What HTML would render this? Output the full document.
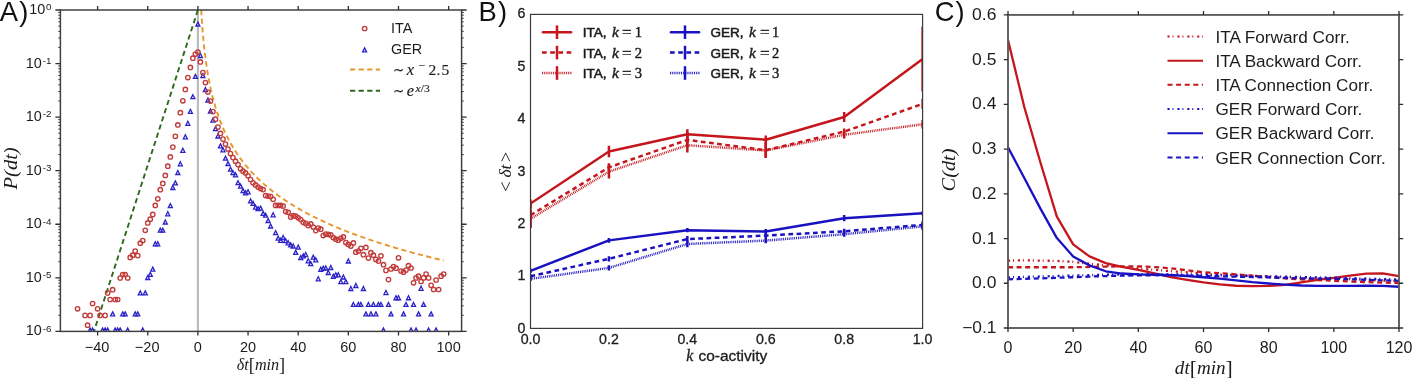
<!DOCTYPE html>
<html lang="en"><head><meta charset="utf-8"><title>Figure</title>
<style>html,body{margin:0;padding:0;background:#fff}svg{display:block}</style></head>
<body>
<svg width="1414" height="378" viewBox="0 0 1414 378">
<rect width="1414" height="378" fill="#fff"/>
<g id="panelA">
<clipPath id="clipA"><rect x="60.4" y="10.0" width="401.20000000000005" height="321.4"/></clipPath>
<g clip-path="url(#clipA)">
<line x1="197.9" y1="10.0" x2="197.9" y2="331.4" stroke="#bcbcbc" stroke-width="2.2"/>
<line x1="197.9" y1="10" x2="93.96" y2="331.4" stroke="#2c6a1c" stroke-width="1.9" stroke-dasharray="5.2 3.4"/>
<polyline fill="none" stroke="#e8962c" stroke-width="1.9" stroke-dasharray="5.2 3.4" points="201.21,10 201.31,11.72 201.41,13.44 201.52,15.16 201.62,16.88 201.74,18.6 201.85,20.31 201.97,22.03 202.09,23.75 202.22,25.47 202.35,27.19 202.48,28.91 202.62,30.63 202.76,32.35 202.9,34.07 203.05,35.79 203.21,37.51 203.37,39.22 203.53,40.94 203.7,42.66 203.88,44.38 204.06,46.1 204.24,47.82 204.43,49.54 204.63,51.26 204.83,52.98 205.04,54.7 205.25,56.42 205.47,58.13 205.7,59.85 205.93,61.57 206.17,63.29 206.42,65.01 206.68,66.73 206.94,68.45 207.21,70.17 207.49,71.89 207.78,73.61 208.07,75.33 208.38,77.05 208.69,78.76 209.02,80.48 209.35,82.2 209.69,83.92 210.05,85.64 210.41,87.36 210.79,89.08 211.17,90.8 211.57,92.52 211.98,94.24 212.4,95.96 212.84,97.67 213.29,99.39 213.75,101.11 214.23,102.83 214.72,104.55 215.22,106.27 215.74,107.99 216.27,109.71 216.83,111.43 217.39,113.15 217.98,114.87 218.58,116.58 219.2,118.3 219.84,120.02 220.5,121.74 221.18,123.46 221.87,125.18 222.59,126.9 223.33,128.62 224.1,130.34 224.88,132.06 225.69,133.78 226.53,135.5 227.39,137.21 228.27,138.93 229.18,140.65 230.12,142.37 231.09,144.09 232.08,145.81 233.11,147.53 234.16,149.25 235.25,150.97 236.37,152.69 237.53,154.41 238.71,156.12 239.94,157.84 241.2,159.56 242.5,161.28 243.84,163 245.22,164.72 246.63,166.44 248.1,168.16 249.6,169.88 251.15,171.6 252.75,173.32 254.4,175.04 256.09,176.75 257.84,178.47 259.64,180.19 261.49,181.91 263.4,183.63 265.36,185.35 267.38,187.07 269.47,188.79 271.62,190.51 273.83,192.23 276.1,193.95 278.45,195.66 280.87,197.38 283.36,199.1 285.92,200.82 288.56,202.54 291.28,204.26 294.08,205.98 296.97,207.7 299.94,209.42 303,211.14 306.15,212.86 309.4,214.57 312.75,216.29 316.19,218.01 319.74,219.73 323.4,221.45 327.16,223.17 331.04,224.89 335.03,226.61 339.15,228.33 343.38,230.05 347.75,231.77 352.24,233.49 356.87,235.2 361.64,236.92 366.56,238.64 371.62,240.36 376.83,242.08 382.19,243.8 387.72,245.52 393.42,247.24 399.28,248.96 405.33,250.68 411.55,252.4 417.96,254.11 424.56,255.83 431.36,257.55 438.36,259.27 443.63,260.53"/>
<g fill="none" stroke="#2a22c8" stroke-width="1.3" stroke-linejoin="miter">
<path d="M90.08 328L92.08 332L88.08 332Z"/>
<path d="M92.59 328L94.59 332L90.59 332Z"/>
<path d="M102.62 328L104.62 332L100.62 332Z"/>
<path d="M105.12 328L107.12 332L103.12 332Z"/>
<path d="M107.63 328L109.63 332L105.63 332Z"/>
<path d="M112.65 311.88L114.65 315.88L110.65 315.88Z"/>
<path d="M115.15 328L117.15 332L113.15 332Z"/>
<path d="M117.66 328L119.66 332L115.66 332Z"/>
<path d="M120.17 328L122.17 332L118.17 332Z"/>
<path d="M122.68 311.88L124.68 315.88L120.68 315.88Z"/>
<path d="M125.18 311.88L127.18 315.88L123.18 315.88Z"/>
<path d="M127.69 328L129.69 332L125.69 332Z"/>
<path d="M135.21 311.88L137.21 315.88L133.21 315.88Z"/>
<path d="M137.72 311.88L139.72 315.88L135.72 315.88Z"/>
<path d="M140.23 290.9L142.23 294.9L138.23 294.9Z"/>
<path d="M142.74 328L144.74 332L140.74 332Z"/>
<path d="M145.24 290.9L147.24 294.9L143.24 294.9Z"/>
<path d="M147.75 275.5L149.75 279.5L145.75 279.5Z"/>
<path d="M150.26 272.4L152.26 276.4L148.26 276.4Z"/>
<path d="M152.77 267.1L154.77 271.1L150.77 271.1Z"/>
<path d="M155.27 241.8L157.27 245.8L153.27 245.8Z"/>
<path d="M157.78 241.8L159.78 245.8L155.78 245.8Z"/>
<path d="M160.29 228.2L162.29 232.2L158.29 232.2Z"/>
<path d="M162.8 228.2L164.8 232.2L160.8 232.2Z"/>
<path d="M165.3 220L167.3 224L163.3 224Z"/>
<path d="M167.81 211.8L169.81 215.8L165.81 215.8Z"/>
<path d="M170.32 203.6L172.32 207.6L168.32 207.6Z"/>
<path d="M172.83 185.5L174.83 189.5L170.83 189.5Z"/>
<path d="M175.33 180.9L177.33 184.9L173.33 184.9Z"/>
<path d="M177.84 170.5L179.84 174.5L175.84 174.5Z"/>
<path d="M180.35 161.8L182.35 165.8L178.35 165.8Z"/>
<path d="M182.86 148.3L184.86 152.3L180.86 152.3Z"/>
<path d="M185.36 134.8L187.36 138.8L183.36 138.8Z"/>
<path d="M187.87 121.3L189.87 125.3L185.87 125.3Z"/>
<path d="M190.38 109.4L192.38 113.4L188.38 113.4Z"/>
<path d="M192.89 94.7L194.89 98.7L190.89 98.7Z"/>
<path d="M195.39 74.4L197.39 78.4L193.39 78.4Z"/>
<path d="M197.9 22L199.9 26L195.9 26Z"/>
<path d="M200.41 53.5L202.41 57.5L198.41 57.5Z"/>
<path d="M202.91 73.6L204.91 77.6L200.91 77.6Z"/>
<path d="M205.42 87.5L207.42 91.5L203.42 91.5Z"/>
<path d="M207.93 98L209.93 102L205.93 102Z"/>
<path d="M210.44 109L212.44 113L208.44 113Z"/>
<path d="M212.94 118.1L214.94 122.1L210.94 122.1Z"/>
<path d="M215.45 126.6L217.45 130.6L213.45 130.6Z"/>
<path d="M217.96 134L219.96 138L215.96 138Z"/>
<path d="M220.47 143.9L222.47 147.9L218.47 147.9Z"/>
<path d="M222.97 147.8L224.97 151.8L220.97 151.8Z"/>
<path d="M225.48 156.2L227.48 160.2L223.48 160.2Z"/>
<path d="M227.99 161.5L229.99 165.5L225.99 165.5Z"/>
<path d="M230.5 167.2L232.5 171.2L228.5 171.2Z"/>
<path d="M233 170.7L235 174.7L231 174.7Z"/>
<path d="M235.51 172.8L237.51 176.8L233.51 176.8Z"/>
<path d="M238.02 180.7L240.02 184.7L236.02 184.7Z"/>
<path d="M240.53 184.1L242.53 188.1L238.53 188.1Z"/>
<path d="M243.03 188.7L245.03 192.7L241.03 192.7Z"/>
<path d="M245.54 190.8L247.54 194.8L243.54 194.8Z"/>
<path d="M248.05 189.8L250.05 193.8L246.05 193.8Z"/>
<path d="M250.56 198.9L252.56 202.9L248.56 202.9Z"/>
<path d="M253.06 201.4L255.06 205.4L251.06 205.4Z"/>
<path d="M255.57 205.2L257.57 209.2L253.57 209.2Z"/>
<path d="M258.08 206.7L260.08 210.7L256.08 210.7Z"/>
<path d="M260.59 206.1L262.59 210.1L258.59 210.1Z"/>
<path d="M263.1 211.4L265.1 215.4L261.1 215.4Z"/>
<path d="M265.6 213.2L267.6 217.2L263.6 217.2Z"/>
<path d="M268.11 218.5L270.11 222.5L266.11 222.5Z"/>
<path d="M270.62 224L272.62 228L268.62 228Z"/>
<path d="M273.12 212.8L275.12 216.8L271.12 216.8Z"/>
<path d="M275.63 230.7L277.63 234.7L273.63 234.7Z"/>
<path d="M278.14 236.2L280.14 240.2L276.14 240.2Z"/>
<path d="M280.65 238.3L282.65 242.3L278.65 242.3Z"/>
<path d="M283.15 235.5L285.15 239.5L281.15 239.5Z"/>
<path d="M285.66 238.7L287.66 242.7L283.66 242.7Z"/>
<path d="M288.17 240.8L290.17 244.8L286.17 244.8Z"/>
<path d="M290.68 242.9L292.68 246.9L288.68 246.9Z"/>
<path d="M293.19 244L295.19 248L291.19 248Z"/>
<path d="M295.69 250.4L297.69 254.4L293.69 254.4Z"/>
<path d="M298.2 245.1L300.2 249.1L296.2 249.1Z"/>
<path d="M300.71 255.6L302.71 259.6L298.71 259.6Z"/>
<path d="M303.22 253.9L305.22 257.9L301.22 257.9Z"/>
<path d="M305.72 252.5L307.72 256.5L303.72 256.5Z"/>
<path d="M308.23 258.8L310.23 262.8L306.23 262.8Z"/>
<path d="M310.74 261.6L312.74 265.6L308.74 265.6Z"/>
<path d="M313.25 255.2L315.25 259.2L311.25 259.2Z"/>
<path d="M315.75 257.8L317.75 261.8L313.75 261.8Z"/>
<path d="M318.26 276.8L320.26 280.8L316.26 280.8Z"/>
<path d="M320.77 267.3L322.77 271.3L318.77 271.3Z"/>
<path d="M323.27 266.2L325.27 270.2L321.27 270.2Z"/>
<path d="M325.78 266L327.78 270L323.78 270Z"/>
<path d="M328.29 270.5L330.29 274.5L326.29 274.5Z"/>
<path d="M330.8 265.5L332.8 269.5L328.8 269.5Z"/>
<path d="M333.31 274.3L335.31 278.3L331.31 278.3Z"/>
<path d="M335.81 272.8L337.81 276.8L333.81 276.8Z"/>
<path d="M338.32 272.8L340.32 276.8L336.32 276.8Z"/>
<path d="M340.83 279.7L342.83 283.7L338.83 283.7Z"/>
<path d="M343.34 275L345.34 279L341.34 279Z"/>
<path d="M345.84 279.7L347.84 283.7L343.84 283.7Z"/>
<path d="M348.35 259L350.35 263L346.35 263Z"/>
<path d="M350.86 286.5L352.86 290.5L348.86 290.5Z"/>
<path d="M353.37 302.44L355.37 306.44L351.37 306.44Z"/>
<path d="M355.87 283.5L357.87 287.5L353.87 287.5Z"/>
<path d="M358.38 302.44L360.38 306.44L356.38 306.44Z"/>
<path d="M360.89 302.44L362.89 306.44L358.89 306.44Z"/>
<path d="M363.39 286.5L365.39 290.5L361.39 290.5Z"/>
<path d="M365.9 311.88L367.9 315.88L363.9 315.88Z"/>
<path d="M368.41 302.44L370.41 306.44L366.41 306.44Z"/>
<path d="M370.92 311.88L372.92 315.88L368.92 315.88Z"/>
<path d="M373.42 302.44L375.42 306.44L371.42 306.44Z"/>
<path d="M375.93 311.88L377.93 315.88L373.93 315.88Z"/>
<path d="M378.44 302.44L380.44 306.44L376.44 306.44Z"/>
<path d="M380.95 302.44L382.95 306.44L378.95 306.44Z"/>
<path d="M383.45 328L385.45 332L381.45 332Z"/>
<path d="M385.96 290.56L387.96 294.56L383.96 294.56Z"/>
<path d="M388.47 302.44L390.47 306.44L386.47 306.44Z"/>
<path d="M390.98 311.88L392.98 315.88L388.98 315.88Z"/>
<path d="M395.99 295.75L397.99 299.75L393.99 299.75Z"/>
<path d="M398.5 295.75L400.5 299.75L396.5 299.75Z"/>
<path d="M403.51 311.88L405.51 315.88L401.51 315.88Z"/>
<path d="M406.02 302.44L408.02 306.44L404.02 306.44Z"/>
<path d="M408.53 295.75L410.53 299.75L406.53 299.75Z"/>
<path d="M411.04 328L413.04 332L409.04 332Z"/>
<path d="M413.54 302.44L415.54 306.44L411.54 306.44Z"/>
<path d="M416.05 328L418.05 332L414.05 332Z"/>
<path d="M418.56 311.88L420.56 315.88L416.56 315.88Z"/>
<path d="M421.07 286.32L423.07 290.32L419.07 290.32Z"/>
<path d="M423.57 302.44L425.57 306.44L421.57 306.44Z"/>
<path d="M428.59 328L430.59 332L426.59 332Z"/>
<path d="M431.1 311.88L433.1 315.88L429.1 315.88Z"/>
<path d="M436.11 328L438.11 332L434.11 332Z"/>
</g>
<g fill="none" stroke="#c23a3a" stroke-width="1.35">
<circle cx="77.54" cy="308.8" r="2.2"/>
<circle cx="85.06" cy="315.4" r="2.2"/>
<circle cx="87.57" cy="325.2" r="2.2"/>
<circle cx="90.08" cy="315.4" r="2.2"/>
<circle cx="92.59" cy="303.5" r="2.2"/>
<circle cx="97.6" cy="308.8" r="2.2"/>
<circle cx="100.11" cy="315.4" r="2.2"/>
<circle cx="105.12" cy="315.4" r="2.2"/>
<circle cx="107.63" cy="292.9" r="2.2"/>
<circle cx="110.14" cy="299.5" r="2.2"/>
<circle cx="112.65" cy="289.7" r="2.2"/>
<circle cx="115.15" cy="299.5" r="2.2"/>
<circle cx="117.66" cy="299.5" r="2.2"/>
<circle cx="120.17" cy="278" r="2.2"/>
<circle cx="122.68" cy="274.5" r="2.2"/>
<circle cx="125.18" cy="274.5" r="2.2"/>
<circle cx="127.69" cy="278" r="2.2"/>
<circle cx="130.2" cy="257.4" r="2.2"/>
<circle cx="132.71" cy="255.2" r="2.2"/>
<circle cx="135.21" cy="251" r="2.2"/>
<circle cx="137.72" cy="255.6" r="2.2"/>
<circle cx="140.23" cy="243.2" r="2.2"/>
<circle cx="142.74" cy="240.6" r="2.2"/>
<circle cx="145.24" cy="230.3" r="2.2"/>
<circle cx="147.75" cy="222.9" r="2.2"/>
<circle cx="150.26" cy="219.2" r="2.2"/>
<circle cx="152.77" cy="214.4" r="2.2"/>
<circle cx="155.27" cy="205.4" r="2.2"/>
<circle cx="157.78" cy="198.8" r="2.2"/>
<circle cx="160.29" cy="189.7" r="2.2"/>
<circle cx="162.8" cy="183.4" r="2.2"/>
<circle cx="165.3" cy="175.4" r="2.2"/>
<circle cx="167.81" cy="166.2" r="2.2"/>
<circle cx="170.32" cy="156.9" r="2.2"/>
<circle cx="172.83" cy="147.1" r="2.2"/>
<circle cx="175.33" cy="136.3" r="2.2"/>
<circle cx="177.84" cy="124.9" r="2.2"/>
<circle cx="180.35" cy="112.7" r="2.2"/>
<circle cx="182.86" cy="100.8" r="2.2"/>
<circle cx="185.36" cy="89.4" r="2.2"/>
<circle cx="187.87" cy="77.5" r="2.2"/>
<circle cx="190.38" cy="67.4" r="2.2"/>
<circle cx="192.89" cy="58.2" r="2.2"/>
<circle cx="195.39" cy="54" r="2.2"/>
<circle cx="197.9" cy="52.1" r="2.2"/>
<circle cx="200.41" cy="61.9" r="2.2"/>
<circle cx="202.91" cy="72.5" r="2.2"/>
<circle cx="205.42" cy="82.5" r="2.2"/>
<circle cx="207.93" cy="92" r="2.2"/>
<circle cx="210.44" cy="101" r="2.2"/>
<circle cx="212.94" cy="111.5" r="2.2"/>
<circle cx="215.45" cy="119.2" r="2.2"/>
<circle cx="217.96" cy="127" r="2.2"/>
<circle cx="220.47" cy="133.4" r="2.2"/>
<circle cx="222.97" cy="139.1" r="2.2"/>
<circle cx="225.48" cy="144" r="2.2"/>
<circle cx="227.99" cy="149" r="2.2"/>
<circle cx="230.5" cy="153.5" r="2.2"/>
<circle cx="233" cy="157.6" r="2.2"/>
<circle cx="235.51" cy="161.2" r="2.2"/>
<circle cx="238.02" cy="164.6" r="2.2"/>
<circle cx="240.53" cy="168.8" r="2.2"/>
<circle cx="243.03" cy="171.2" r="2.2"/>
<circle cx="245.54" cy="172.9" r="2.2"/>
<circle cx="248.05" cy="175.8" r="2.2"/>
<circle cx="250.56" cy="179.6" r="2.2"/>
<circle cx="253.06" cy="182.8" r="2.2"/>
<circle cx="255.57" cy="184.9" r="2.2"/>
<circle cx="258.08" cy="187" r="2.2"/>
<circle cx="260.59" cy="188.5" r="2.2"/>
<circle cx="263.1" cy="189.6" r="2.2"/>
<circle cx="265.6" cy="195.5" r="2.2"/>
<circle cx="268.11" cy="196.1" r="2.2"/>
<circle cx="270.62" cy="196.6" r="2.2"/>
<circle cx="273.12" cy="199.3" r="2.2"/>
<circle cx="275.63" cy="205.4" r="2.2"/>
<circle cx="278.14" cy="205.4" r="2.2"/>
<circle cx="280.65" cy="205.4" r="2.2"/>
<circle cx="283.15" cy="206.1" r="2.2"/>
<circle cx="285.66" cy="211.5" r="2.2"/>
<circle cx="288.17" cy="212.3" r="2.2"/>
<circle cx="290.68" cy="217" r="2.2"/>
<circle cx="293.19" cy="215.7" r="2.2"/>
<circle cx="295.69" cy="216.2" r="2.2"/>
<circle cx="298.2" cy="217.8" r="2.2"/>
<circle cx="300.71" cy="219.5" r="2.2"/>
<circle cx="303.22" cy="222.3" r="2.2"/>
<circle cx="305.72" cy="223.4" r="2.2"/>
<circle cx="308.23" cy="225.6" r="2.2"/>
<circle cx="310.74" cy="223.9" r="2.2"/>
<circle cx="313.25" cy="227" r="2.2"/>
<circle cx="315.75" cy="230.6" r="2.2"/>
<circle cx="318.26" cy="228.1" r="2.2"/>
<circle cx="320.77" cy="229.2" r="2.2"/>
<circle cx="323.27" cy="235.5" r="2.2"/>
<circle cx="325.78" cy="234" r="2.2"/>
<circle cx="328.29" cy="234.4" r="2.2"/>
<circle cx="330.8" cy="234.9" r="2.2"/>
<circle cx="333.31" cy="237.6" r="2.2"/>
<circle cx="335.81" cy="239.2" r="2.2"/>
<circle cx="338.32" cy="240.2" r="2.2"/>
<circle cx="340.83" cy="238.3" r="2.2"/>
<circle cx="343.34" cy="236.9" r="2.2"/>
<circle cx="345.84" cy="242.5" r="2.2"/>
<circle cx="348.35" cy="244.4" r="2.2"/>
<circle cx="350.86" cy="246" r="2.2"/>
<circle cx="353.37" cy="242.9" r="2.2"/>
<circle cx="355.87" cy="252.2" r="2.2"/>
<circle cx="358.38" cy="251" r="2.2"/>
<circle cx="360.89" cy="248.3" r="2.2"/>
<circle cx="363.39" cy="254.7" r="2.2"/>
<circle cx="365.9" cy="247.4" r="2.2"/>
<circle cx="368.41" cy="258" r="2.2"/>
<circle cx="370.92" cy="252.7" r="2.2"/>
<circle cx="373.42" cy="255.2" r="2.2"/>
<circle cx="375.93" cy="259.4" r="2.2"/>
<circle cx="378.44" cy="261.1" r="2.2"/>
<circle cx="380.95" cy="255.8" r="2.2"/>
<circle cx="383.45" cy="264.7" r="2.2"/>
<circle cx="385.96" cy="270.4" r="2.2"/>
<circle cx="388.47" cy="279.6" r="2.2"/>
<circle cx="390.98" cy="269" r="2.2"/>
<circle cx="393.49" cy="266.5" r="2.2"/>
<circle cx="395.99" cy="268.2" r="2.2"/>
<circle cx="398.5" cy="257.8" r="2.2"/>
<circle cx="401.01" cy="271" r="2.2"/>
<circle cx="403.51" cy="272.2" r="2.2"/>
<circle cx="406.02" cy="270.1" r="2.2"/>
<circle cx="408.53" cy="265.7" r="2.2"/>
<circle cx="411.04" cy="268" r="2.2"/>
<circle cx="413.54" cy="282.8" r="2.2"/>
<circle cx="416.05" cy="277.9" r="2.2"/>
<circle cx="418.56" cy="276.2" r="2.2"/>
<circle cx="421.07" cy="281.5" r="2.2"/>
<circle cx="423.57" cy="277.9" r="2.2"/>
<circle cx="426.08" cy="274" r="2.2"/>
<circle cx="428.59" cy="277.9" r="2.2"/>
<circle cx="431.1" cy="285.3" r="2.2"/>
<circle cx="433.61" cy="289.5" r="2.2"/>
<circle cx="436.11" cy="280" r="2.2"/>
<circle cx="438.62" cy="289.5" r="2.2"/>
<circle cx="441.13" cy="276.2" r="2.2"/>
<circle cx="443.63" cy="274" r="2.2"/>
</g>
</g>
<rect x="60.4" y="10.0" width="401.2" height="321.4" fill="none" stroke="#404040" stroke-width="1.5"/>
<path d="M97.6 331.4v4M97.6 10.0v-4M147.75 331.4v4M147.75 10.0v-4M197.9 331.4v4M197.9 10.0v-4M248.05 331.4v4M248.05 10.0v-4M298.2 331.4v4M298.2 10.0v-4M348.35 331.4v4M348.35 10.0v-4M398.5 331.4v4M398.5 10.0v-4M448.65 331.4v4M448.65 10.0v-4M60.4 10h-5M461.6 10h5M60.4 63.57h-5M461.6 63.57h5M60.4 117.13h-5M461.6 117.13h5M60.4 170.7h-5M461.6 170.7h5M60.4 224.27h-5M461.6 224.27h5M60.4 277.83h-5M461.6 277.83h5M60.4 331.4h-5M461.6 331.4h5" stroke="#2e2e2e" stroke-width="1.3" fill="none"/>
<path d="M60.4 47.44h-2.2M461.6 47.44h2.2M60.4 38.01h-2.2M461.6 38.01h2.2M60.4 31.32h-2.2M461.6 31.32h2.2M60.4 26.13h-2.2M461.6 26.13h2.2M60.4 21.88h-2.2M461.6 21.88h2.2M60.4 18.3h-2.2M461.6 18.3h2.2M60.4 15.19h-2.2M461.6 15.19h2.2M60.4 12.45h-2.2M461.6 12.45h2.2M60.4 101.01h-2.2M461.6 101.01h2.2M60.4 91.58h-2.2M461.6 91.58h2.2M60.4 84.88h-2.2M461.6 84.88h2.2M60.4 79.69h-2.2M461.6 79.69h2.2M60.4 75.45h-2.2M461.6 75.45h2.2M60.4 71.86h-2.2M461.6 71.86h2.2M60.4 68.76h-2.2M461.6 68.76h2.2M60.4 66.02h-2.2M461.6 66.02h2.2M60.4 154.57h-2.2M461.6 154.57h2.2M60.4 145.14h-2.2M461.6 145.14h2.2M60.4 138.45h-2.2M461.6 138.45h2.2M60.4 133.26h-2.2M461.6 133.26h2.2M60.4 129.02h-2.2M461.6 129.02h2.2M60.4 125.43h-2.2M461.6 125.43h2.2M60.4 122.32h-2.2M461.6 122.32h2.2M60.4 119.58h-2.2M461.6 119.58h2.2M60.4 208.14h-2.2M461.6 208.14h2.2M60.4 198.71h-2.2M461.6 198.71h2.2M60.4 192.02h-2.2M461.6 192.02h2.2M60.4 186.83h-2.2M461.6 186.83h2.2M60.4 182.58h-2.2M461.6 182.58h2.2M60.4 179h-2.2M461.6 179h2.2M60.4 175.89h-2.2M461.6 175.89h2.2M60.4 173.15h-2.2M461.6 173.15h2.2M60.4 261.71h-2.2M461.6 261.71h2.2M60.4 252.28h-2.2M461.6 252.28h2.2M60.4 245.58h-2.2M461.6 245.58h2.2M60.4 240.39h-2.2M461.6 240.39h2.2M60.4 236.15h-2.2M461.6 236.15h2.2M60.4 232.56h-2.2M461.6 232.56h2.2M60.4 229.46h-2.2M461.6 229.46h2.2M60.4 226.72h-2.2M461.6 226.72h2.2M60.4 315.27h-2.2M461.6 315.27h2.2M60.4 305.84h-2.2M461.6 305.84h2.2M60.4 299.15h-2.2M461.6 299.15h2.2M60.4 293.96h-2.2M461.6 293.96h2.2M60.4 289.72h-2.2M461.6 289.72h2.2M60.4 286.13h-2.2M461.6 286.13h2.2M60.4 283.02h-2.2M461.6 283.02h2.2M60.4 280.28h-2.2M461.6 280.28h2.2" stroke="#333" stroke-width="0.9" fill="none"/>
<g font-family='"Liberation Sans", "DejaVu Sans", sans-serif' fill="#1c1c1c">
<text x="97" y="351.7" font-size="14.5" text-anchor="middle">−40</text>
<text x="147.15" y="351.7" font-size="14.5" text-anchor="middle">−20</text>
<text x="197.9" y="351.7" font-size="14.5" text-anchor="middle">0</text>
<text x="248.05" y="351.7" font-size="14.5" text-anchor="middle">20</text>
<text x="298.2" y="351.7" font-size="14.5" text-anchor="middle">40</text>
<text x="348.35" y="351.7" font-size="14.5" text-anchor="middle">60</text>
<text x="398.5" y="351.7" font-size="14.5" text-anchor="middle">80</text>
<text x="448.65" y="351.7" font-size="14.5" text-anchor="middle">100</text>
<text x="51.5" y="14" font-size="14.4" text-anchor="end">10<tspan font-size="9.8" dy="-3.7" dx="0.9">0</tspan></text>
<text x="51.5" y="67.57" font-size="14.4" text-anchor="end">10<tspan font-size="9.8" dy="-3.7" dx="0.9">-1</tspan></text>
<text x="51.5" y="121.13" font-size="14.4" text-anchor="end">10<tspan font-size="9.8" dy="-3.7" dx="0.9">-2</tspan></text>
<text x="51.5" y="174.7" font-size="14.4" text-anchor="end">10<tspan font-size="9.8" dy="-3.7" dx="0.9">-3</tspan></text>
<text x="51.5" y="228.27" font-size="14.4" text-anchor="end">10<tspan font-size="9.8" dy="-3.7" dx="0.9">-4</tspan></text>
<text x="51.5" y="281.83" font-size="14.4" text-anchor="end">10<tspan font-size="9.8" dy="-3.7" dx="0.9">-5</tspan></text>
<text x="51.5" y="335.4" font-size="14.4" text-anchor="end">10<tspan font-size="9.8" dy="-3.7" dx="0.9">-6</tspan></text>
</g>
<text transform="translate(17.4 168.4) rotate(-90)" font-family='"Liberation Serif", "DejaVu Serif", serif' font-style="italic" font-size="19.6" text-anchor="middle" fill="#1c1c1c" textLength="42.2" lengthAdjust="spacingAndGlyphs">P(dt)</text>
<text x="261" y="370.4" font-family='"Liberation Serif", "DejaVu Serif", serif' font-style="italic" font-size="16.3" text-anchor="middle" fill="#1c1c1c" textLength="48.5" lengthAdjust="spacingAndGlyphs">δt<tspan font-style="normal" font-size="18.6" dy="0.9">[</tspan><tspan dy="-0.9">min</tspan><tspan font-style="normal" font-size="18.6" dy="0.9">]</tspan></text>
<circle cx="364.6" cy="28.5" r="2.2" fill="none" stroke="#c23a3a" stroke-width="1.35"/>
<path d="M364.6 47.9L366.6 51.9L362.6 51.9Z" fill="none" stroke="#2a22c8" stroke-width="1.3"/>
<line x1="350" y1="69.5" x2="380" y2="69.5" stroke="#e8962c" stroke-width="1.9" stroke-dasharray="5.2 3.4"/>
<line x1="350" y1="90.7" x2="380" y2="90.7" stroke="#2c6a1c" stroke-width="1.9" stroke-dasharray="5.2 3.4"/>
<text x="391" y="33.2" font-family='"Liberation Sans", "DejaVu Sans", sans-serif' font-size="14.4" fill="#1c1c1c">ITA</text>
<text x="391" y="54.4" font-family='"Liberation Sans", "DejaVu Sans", sans-serif' font-size="14.4" fill="#1c1c1c">GER</text>
<g font-family='"Liberation Serif", "DejaVu Serif", serif' fill="#1c1c1c" font-size="15.5" stroke="#1c1c1c" stroke-width="0.15"><text x="392.9" y="74.8" textLength="11.4" lengthAdjust="spacingAndGlyphs">∼</text><text x="406.8" y="74.8" font-style="italic" font-size="16.4">x</text><text x="418.5" y="68.6" font-size="11.6">−</text><text x="428.6" y="74.8">2</text><text x="436.6" y="74.8">.</text><text x="441.6" y="74.8">5</text></g>
<g font-family='"Liberation Serif", "DejaVu Serif", serif' fill="#1c1c1c" font-size="15.5" stroke="#1c1c1c" stroke-width="0.15"><text x="392.9" y="96" textLength="11.4" lengthAdjust="spacingAndGlyphs">∼</text><text x="406.8" y="96" font-style="italic" font-size="16.4">e</text><text x="415.6" y="91.6" font-size="11.4" textLength="14.2" lengthAdjust="spacingAndGlyphs"><tspan font-style="italic">x</tspan>/3</text></g>
<text x="-0.3" y="20.7" font-family='"Liberation Sans", "DejaVu Sans", sans-serif' font-size="27.4" fill="#111" letter-spacing="1.3">A)</text>
</g>
<g id="panelB">
<clipPath id="clipB"><rect x="530.5" y="14.4" width="392.1" height="314.0"/></clipPath>
<g clip-path="url(#clipB)" fill="none" stroke-width="2.5">
<polyline stroke="#1a12c0" stroke-dasharray="0.9 0.95" stroke-linejoin="round" points="530.5,278.89 608.92,267.9 687.34,243.99 765.76,240.58 844.18,234.2 922.6,226.35"/>
<path stroke="#1a12c0" d="M530.5 276.8V280.99M608.92 265.29V270.52M687.34 240.85V247.13M765.76 237.97V243.2M844.18 231.58V236.82M922.6 222.69V230.01"/>
<polyline stroke="#1a12c0" stroke-dasharray="4.7 3.5" stroke-linejoin="round" points="530.5,276.33 608.92,258.8 687.34,239.07 765.76,235.61 844.18,231.27 922.6,224.88"/>
<path stroke="#1a12c0" d="M530.5 274.23V278.42M608.92 256.18V261.41M687.34 235.93V242.21M765.76 233V238.23M844.18 228.65V233.89M922.6 221.22V228.55"/>
<polyline stroke="#1a12c0" stroke-linejoin="round" points="530.5,270.83 608.92,240.38 687.34,230.17 765.76,231.58 844.18,218.19 922.6,213.27"/>
<path stroke="#1a12c0" d="M530.5 268.74V272.93M608.92 238.02V242.73M687.34 228.08V232.26M765.76 228.97V234.2M844.18 215.05V221.33M922.6 211.17V215.36"/>
<polyline stroke="#c4161c" stroke-dasharray="0.9 0.95" stroke-linejoin="round" points="530.5,218.81 608.92,171.66 687.34,145.23 765.76,150.47 844.18,134.77 922.6,124.3"/>
<path stroke="#c4161c" d="M530.5 209.92V227.71M608.92 164.86V178.46M687.34 137.91V152.56M765.76 143.14V157.79M844.18 131.1V138.43M922.6 120.11V128.49"/>
<polyline stroke="#c4161c" stroke-dasharray="4.7 3.5" stroke-linejoin="round" points="530.5,215.2 608.92,167.37 687.34,139.9 765.76,150.2 844.18,131.63 922.6,103.89"/>
<path stroke="#c4161c" d="M530.5 202.64V227.76M608.92 163.18V171.56M687.34 132.05V147.75M765.76 142.35V158.05M844.18 128.49V134.77M922.6 98.66V109.12"/>
<polyline stroke="#c4161c" stroke-linejoin="round" points="530.5,203.58 608.92,151.51 687.34,134.19 765.76,139.69 844.18,116.97 922.6,58.99"/>
<path stroke="#c4161c" d="M530.5 199.4V207.77M608.92 145.76V157.27M687.34 129.22V139.16M765.76 135.5V143.87M844.18 112V121.94M922.6 26.54V91.43"/>
</g>
<rect x="530.5" y="14.4" width="392.1" height="314" fill="none" stroke="#3c3c3c" stroke-width="1.2"/>
<g font-family='"Liberation Sans", "DejaVu Sans", sans-serif' fill="#1c1c1c" font-size="14.2" stroke="#1c1c1c" stroke-width="0.3">
<text x="530.5" y="344.2" text-anchor="middle">0.0</text>
<text x="608.92" y="344.2" text-anchor="middle">0.2</text>
<text x="687.34" y="344.2" text-anchor="middle">0.4</text>
<text x="765.76" y="344.2" text-anchor="middle">0.6</text>
<text x="844.18" y="344.2" text-anchor="middle">0.8</text>
<text x="922.6" y="344.2" text-anchor="middle">1.0</text>
<text x="525.3" y="332.6" text-anchor="end">0</text>
<text x="525.3" y="280.27" text-anchor="end">1</text>
<text x="525.3" y="227.93" text-anchor="end">2</text>
<text x="525.3" y="175.6" text-anchor="end">3</text>
<text x="525.3" y="123.27" text-anchor="end">4</text>
<text x="525.3" y="70.93" text-anchor="end">5</text>
<text x="525.3" y="17.9" text-anchor="end">6</text>
</g>
<g transform="translate(511.4 191.9) rotate(-90)" font-family='"Liberation Serif", "DejaVu Serif", serif' fill="#1c1c1c"><text x="0" y="0.4" font-size="18" textLength="10.7" lengthAdjust="spacingAndGlyphs">&lt;</text><text x="14.3" y="-0.8" font-size="16.2" font-style="italic" textLength="13.1" lengthAdjust="spacingAndGlyphs">δt</text><text x="29.6" y="0.4" font-size="18" textLength="10.4" lengthAdjust="spacingAndGlyphs">&gt;</text></g>
<text x="686.2" y="361.4" font-family='"Liberation Serif", "DejaVu Serif", serif' font-style="italic" font-size="15.8" fill="#1c1c1c" stroke="#1c1c1c" stroke-width="0.3">k</text><text x="698.4" y="361.4" font-family='"Liberation Sans", "DejaVu Sans", sans-serif' font-size="14.8" fill="#1c1c1c" stroke="#1c1c1c" stroke-width="0.3" textLength="68.9" lengthAdjust="spacingAndGlyphs">co-activity</text>
<line x1="543" y1="32.2" x2="571" y2="32.2" stroke="#c4161c" stroke-width="2.5" stroke-linecap="round"/>
<line x1="557" y1="25.4" x2="557" y2="39" stroke="#c4161c" stroke-width="2.5"/>
<text x="582.8" y="37.2" font-family='"Liberation Sans", "DejaVu Sans", sans-serif' font-size="13.5" fill="#1c1c1c" stroke="#1c1c1c" stroke-width="0.55">ITA,</text>
<text y="37.2" font-family='"Liberation Serif", "DejaVu Serif", serif' fill="#1c1c1c" stroke="#1c1c1c" stroke-width="0.4" font-size="14.6"><tspan x="611.9" font-style="italic" font-size="15.4">k</tspan><tspan x="622" textLength="9.6" lengthAdjust="spacingAndGlyphs">=</tspan><tspan x="634.7">1</tspan></text>
<line x1="542" y1="52.6" x2="572" y2="52.6" stroke="#c4161c" stroke-width="2.5" stroke-dasharray="4.7 3.5"/>
<line x1="557" y1="45.8" x2="557" y2="59.4" stroke="#c4161c" stroke-width="2.5"/>
<text x="582.8" y="57.6" font-family='"Liberation Sans", "DejaVu Sans", sans-serif' font-size="13.5" fill="#1c1c1c" stroke="#1c1c1c" stroke-width="0.55">ITA,</text>
<text y="57.6" font-family='"Liberation Serif", "DejaVu Serif", serif' fill="#1c1c1c" stroke="#1c1c1c" stroke-width="0.4" font-size="14.6"><tspan x="611.9" font-style="italic" font-size="15.4">k</tspan><tspan x="622" textLength="9.6" lengthAdjust="spacingAndGlyphs">=</tspan><tspan x="634.7">2</tspan></text>
<line x1="542" y1="73" x2="572" y2="73" stroke="#c4161c" stroke-width="2.5" stroke-dasharray="0.9 0.95"/>
<line x1="557" y1="66.2" x2="557" y2="79.8" stroke="#c4161c" stroke-width="2.5"/>
<text x="582.8" y="78" font-family='"Liberation Sans", "DejaVu Sans", sans-serif' font-size="13.5" fill="#1c1c1c" stroke="#1c1c1c" stroke-width="0.55">ITA,</text>
<text y="78" font-family='"Liberation Serif", "DejaVu Serif", serif' fill="#1c1c1c" stroke="#1c1c1c" stroke-width="0.4" font-size="14.6"><tspan x="611.9" font-style="italic" font-size="15.4">k</tspan><tspan x="622" textLength="9.6" lengthAdjust="spacingAndGlyphs">=</tspan><tspan x="634.7">3</tspan></text>
<line x1="671" y1="32.2" x2="699" y2="32.2" stroke="#1a12c0" stroke-width="2.5" stroke-linecap="round"/>
<line x1="685" y1="25.4" x2="685" y2="39" stroke="#1a12c0" stroke-width="2.5"/>
<text x="710.6" y="37.2" font-family='"Liberation Sans", "DejaVu Sans", sans-serif' font-size="13.5" fill="#1c1c1c" stroke="#1c1c1c" stroke-width="0.55">GER,</text>
<text y="37.2" font-family='"Liberation Serif", "DejaVu Serif", serif' fill="#1c1c1c" stroke="#1c1c1c" stroke-width="0.4" font-size="14.6"><tspan x="749.1" font-style="italic" font-size="15.4">k</tspan><tspan x="760" textLength="9.6" lengthAdjust="spacingAndGlyphs">=</tspan><tspan x="771.9">1</tspan></text>
<line x1="670" y1="52.6" x2="700" y2="52.6" stroke="#1a12c0" stroke-width="2.5" stroke-dasharray="4.7 3.5"/>
<line x1="685" y1="45.8" x2="685" y2="59.4" stroke="#1a12c0" stroke-width="2.5"/>
<text x="710.6" y="57.6" font-family='"Liberation Sans", "DejaVu Sans", sans-serif' font-size="13.5" fill="#1c1c1c" stroke="#1c1c1c" stroke-width="0.55">GER,</text>
<text y="57.6" font-family='"Liberation Serif", "DejaVu Serif", serif' fill="#1c1c1c" stroke="#1c1c1c" stroke-width="0.4" font-size="14.6"><tspan x="749.1" font-style="italic" font-size="15.4">k</tspan><tspan x="760" textLength="9.6" lengthAdjust="spacingAndGlyphs">=</tspan><tspan x="771.9">2</tspan></text>
<line x1="670" y1="73" x2="700" y2="73" stroke="#1a12c0" stroke-width="2.5" stroke-dasharray="0.9 0.95"/>
<line x1="685" y1="66.2" x2="685" y2="79.8" stroke="#1a12c0" stroke-width="2.5"/>
<text x="710.6" y="78" font-family='"Liberation Sans", "DejaVu Sans", sans-serif' font-size="13.5" fill="#1c1c1c" stroke="#1c1c1c" stroke-width="0.55">GER,</text>
<text y="78" font-family='"Liberation Serif", "DejaVu Serif", serif' fill="#1c1c1c" stroke="#1c1c1c" stroke-width="0.4" font-size="14.6"><tspan x="749.1" font-style="italic" font-size="15.4">k</tspan><tspan x="760" textLength="9.6" lengthAdjust="spacingAndGlyphs">=</tspan><tspan x="771.9">3</tspan></text>
<text x="478.4" y="20.7" font-family='"Liberation Sans", "DejaVu Sans", sans-serif' font-size="27.4" fill="#111" letter-spacing="1.4">B)</text>
</g>
<g id="panelC">
<clipPath id="clipC"><rect x="1008.0" y="14.9" width="391.0" height="313.1"/></clipPath>
<g clip-path="url(#clipC)" fill="none" stroke-width="2.3" stroke-linejoin="round">
<polyline stroke="#c4161c" stroke-dasharray="2.1 2.9 1 3.9" points="1008,260.59 1024.29,260.37 1040.58,260.59 1056.88,260.91 1073.17,261.8 1089.46,263.77 1105.75,265.38 1122.04,266.95 1138.33,268.51 1154.62,269.85 1170.92,271.19 1187.21,272.31 1203.5,273.43 1219.79,274.33 1236.08,275.22 1252.38,275.89 1268.67,276.56 1284.96,277.23 1301.25,277.9 1317.54,278.35 1333.83,278.8 1350.12,279.25 1366.42,279.92 1382.71,280.59 1399,281.03"/>
<polyline stroke="#c4161c" points="1008,40.13 1024.29,107.04 1040.58,162.95 1056.88,216.63 1073.17,244.36 1089.46,256.43 1105.75,263.14 1122.04,266.81 1138.33,269.85 1154.62,273.43 1170.92,277.23 1187.21,279.92 1203.5,282.38 1219.79,284.39 1236.08,285.73 1252.38,286.04 1268.67,285.87 1284.96,284.88 1301.25,282.38 1317.54,279.92 1333.83,277.9 1350.12,275.67 1366.42,273.65 1382.71,273.43 1399,276.11"/>
<polyline stroke="#c4161c" stroke-dasharray="5 3.6" points="1008,267.26 1024.29,267.26 1040.58,267.26 1056.88,267.26 1073.17,267.26 1089.46,266.95 1105.75,266.63 1122.04,266.36 1138.33,266.36 1154.62,267.08 1170.92,268.29 1187.21,270.3 1203.5,272.31 1219.79,273.21 1236.08,274.33 1252.38,275.67 1268.67,277.01 1284.96,278.35 1301.25,279.47 1317.54,280.14 1333.83,280.81 1350.12,281.48 1366.42,282.15 1382.71,282.6 1399,283.05"/>
<polyline stroke="#1a12c0" stroke-dasharray="2.1 2.9 1 3.9" points="1008,277.37 1024.29,276.92 1040.58,276.47 1056.88,276.03 1073.17,275.58 1089.46,275.13 1105.75,274.68 1122.04,274.33 1138.33,274.1 1154.62,274.1 1170.92,274.33 1187.21,274.55 1203.5,274.77 1219.79,275.22 1236.08,275.58 1252.38,275.89 1268.67,276.34 1284.96,276.65 1301.25,277.01 1317.54,277.37 1333.83,277.68 1350.12,278.13 1366.42,278.57 1382.71,279.02 1399,279.47"/>
<polyline stroke="#1a12c0" points="1008,147.21 1024.29,178.03 1040.58,208.84 1056.88,238.1 1073.17,256.43 1089.46,265.38 1105.75,271.28 1122.04,273.52 1138.33,274.42 1154.62,274.77 1170.92,275.13 1187.21,276.11 1203.5,277.23 1219.79,278.57 1236.08,280.36 1252.38,282.15 1268.67,283.5 1284.96,284.61 1301.25,285.51 1317.54,285.96 1333.83,285.96 1350.12,285.96 1366.42,285.73 1382.71,285.96 1399,286.76"/>
<polyline stroke="#1a12c0" stroke-dasharray="5 3.6" points="1008,279.34 1024.29,278.89 1040.58,278.35 1056.88,277.81 1073.17,277.23 1089.46,276.56 1105.75,276.03 1122.04,275.58 1138.33,275.31 1154.62,275.22 1170.92,275.31 1187.21,275.58 1203.5,275.89 1219.79,276.34 1236.08,276.65 1252.38,277.01 1268.67,277.46 1284.96,277.9 1301.25,278.35 1317.54,278.57 1333.83,278.8 1350.12,279.25 1366.42,279.78 1382.71,280.36 1399,280.81"/>
</g>
<rect x="1008.0" y="14.9" width="391" height="313.1" fill="none" stroke="#5c5c5c" stroke-width="1.9"/>
<path d="M1008 328.0v4M1008 14.9v-4M1073.17 328.0v4M1073.17 14.9v-4M1138.33 328.0v4M1138.33 14.9v-4M1203.5 328.0v4M1203.5 14.9v-4M1268.67 328.0v4M1268.67 14.9v-4M1333.83 328.0v4M1333.83 14.9v-4M1399 328.0v4M1399 14.9v-4M1008.0 328h-4.2M1399.0 328h4.2M1008.0 283.27h-4.2M1399.0 283.27h4.2M1008.0 238.54h-4.2M1399.0 238.54h4.2M1008.0 193.81h-4.2M1399.0 193.81h4.2M1008.0 149.09h-4.2M1399.0 149.09h4.2M1008.0 104.36h-4.2M1399.0 104.36h4.2M1008.0 59.63h-4.2M1399.0 59.63h4.2M1008.0 14.9h-4.2M1399.0 14.9h4.2" stroke="#2e2e2e" stroke-width="1.3" fill="none"/>
<g font-family='"Liberation Sans", "DejaVu Sans", sans-serif' fill="#1c1c1c" font-size="16">
<text x="1008" y="352.6" text-anchor="middle">0</text>
<text x="1073.17" y="352.6" text-anchor="middle">20</text>
<text x="1138.33" y="352.6" text-anchor="middle">40</text>
<text x="1203.5" y="352.6" text-anchor="middle">60</text>
<text x="1268.67" y="352.6" text-anchor="middle">80</text>
<text x="1333.83" y="352.6" text-anchor="middle">100</text>
<text x="1399" y="352.6" text-anchor="middle">120</text>
<text x="996.4" y="333.1" text-anchor="end" textLength="34.2" lengthAdjust="spacingAndGlyphs">−0.1</text>
<text x="996.4" y="288.37" text-anchor="end" textLength="24.3" lengthAdjust="spacingAndGlyphs">0.0</text>
<text x="996.4" y="243.64" text-anchor="end" textLength="24.3" lengthAdjust="spacingAndGlyphs">0.1</text>
<text x="996.4" y="198.91" text-anchor="end" textLength="24.3" lengthAdjust="spacingAndGlyphs">0.2</text>
<text x="996.4" y="154.19" text-anchor="end" textLength="24.3" lengthAdjust="spacingAndGlyphs">0.3</text>
<text x="996.4" y="109.46" text-anchor="end" textLength="24.3" lengthAdjust="spacingAndGlyphs">0.4</text>
<text x="996.4" y="64.73" text-anchor="end" textLength="24.3" lengthAdjust="spacingAndGlyphs">0.5</text>
<text x="996.4" y="20" text-anchor="end" textLength="24.3" lengthAdjust="spacingAndGlyphs">0.6</text>
</g>
<text transform="translate(954.8 170) rotate(-90)" font-family='"Liberation Serif", "DejaVu Serif", serif' font-style="italic" font-size="19.6" text-anchor="middle" fill="#1c1c1c" textLength="42.8" lengthAdjust="spacingAndGlyphs">C(dt)</text>
<text x="1203.8" y="373.7" font-family='"Liberation Serif", "DejaVu Serif", serif' font-style="italic" font-size="18.5" text-anchor="middle" fill="#1c1c1c" textLength="57.9" lengthAdjust="spacingAndGlyphs">dt<tspan font-style="normal" font-size="21" dy="1">[</tspan><tspan dy="-1">min</tspan><tspan font-style="normal" font-size="21" dy="1">]</tspan></text>
<line x1="1167.5" y1="36.5" x2="1203" y2="36.5" stroke="#c4161c" stroke-width="2" stroke-dasharray="2.1 2.9 1 3.9"/>
<text x="1215.4" y="42.6" font-family='"Liberation Sans", "DejaVu Sans", sans-serif' font-size="16.3" fill="#1c1c1c" textLength="134.36" lengthAdjust="spacingAndGlyphs">ITA Forward Corr.</text>
<line x1="1167.5" y1="60.68" x2="1203" y2="60.68" stroke="#c4161c" stroke-width="2"/>
<text x="1215.4" y="66.78" font-family='"Liberation Sans", "DejaVu Sans", sans-serif' font-size="16.3" fill="#1c1c1c" textLength="146.52" lengthAdjust="spacingAndGlyphs">ITA Backward Corr.</text>
<line x1="1167.5" y1="84.86" x2="1203" y2="84.86" stroke="#c4161c" stroke-width="2" stroke-dasharray="5 3.6"/>
<text x="1215.4" y="90.96" font-family='"Liberation Sans", "DejaVu Sans", sans-serif' font-size="16.3" fill="#1c1c1c" textLength="157.84" lengthAdjust="spacingAndGlyphs">ITA Connection Corr.</text>
<line x1="1167.5" y1="109.04" x2="1203" y2="109.04" stroke="#1a12c0" stroke-width="2" stroke-dasharray="2.1 2.9 1 3.9"/>
<text x="1215.4" y="115.14" font-family='"Liberation Sans", "DejaVu Sans", sans-serif' font-size="16.3" fill="#1c1c1c" textLength="146.84" lengthAdjust="spacingAndGlyphs">GER Forward Corr.</text>
<line x1="1167.5" y1="133.22" x2="1203" y2="133.22" stroke="#1a12c0" stroke-width="2"/>
<text x="1215.4" y="139.32" font-family='"Liberation Sans", "DejaVu Sans", sans-serif' font-size="16.3" fill="#1c1c1c" textLength="159.11" lengthAdjust="spacingAndGlyphs">GER Backward Corr.</text>
<line x1="1167.5" y1="157.4" x2="1203" y2="157.4" stroke="#1a12c0" stroke-width="2" stroke-dasharray="5 3.6"/>
<text x="1215.4" y="163.5" font-family='"Liberation Sans", "DejaVu Sans", sans-serif' font-size="16.3" fill="#1c1c1c" textLength="170.43" lengthAdjust="spacingAndGlyphs">GER Connection Corr.</text>
<text x="934.8" y="20.8" font-family='"Liberation Sans", "DejaVu Sans", sans-serif' font-size="27.4" fill="#111" letter-spacing="1.0">C)</text>
</g>
</svg>
</body></html>
